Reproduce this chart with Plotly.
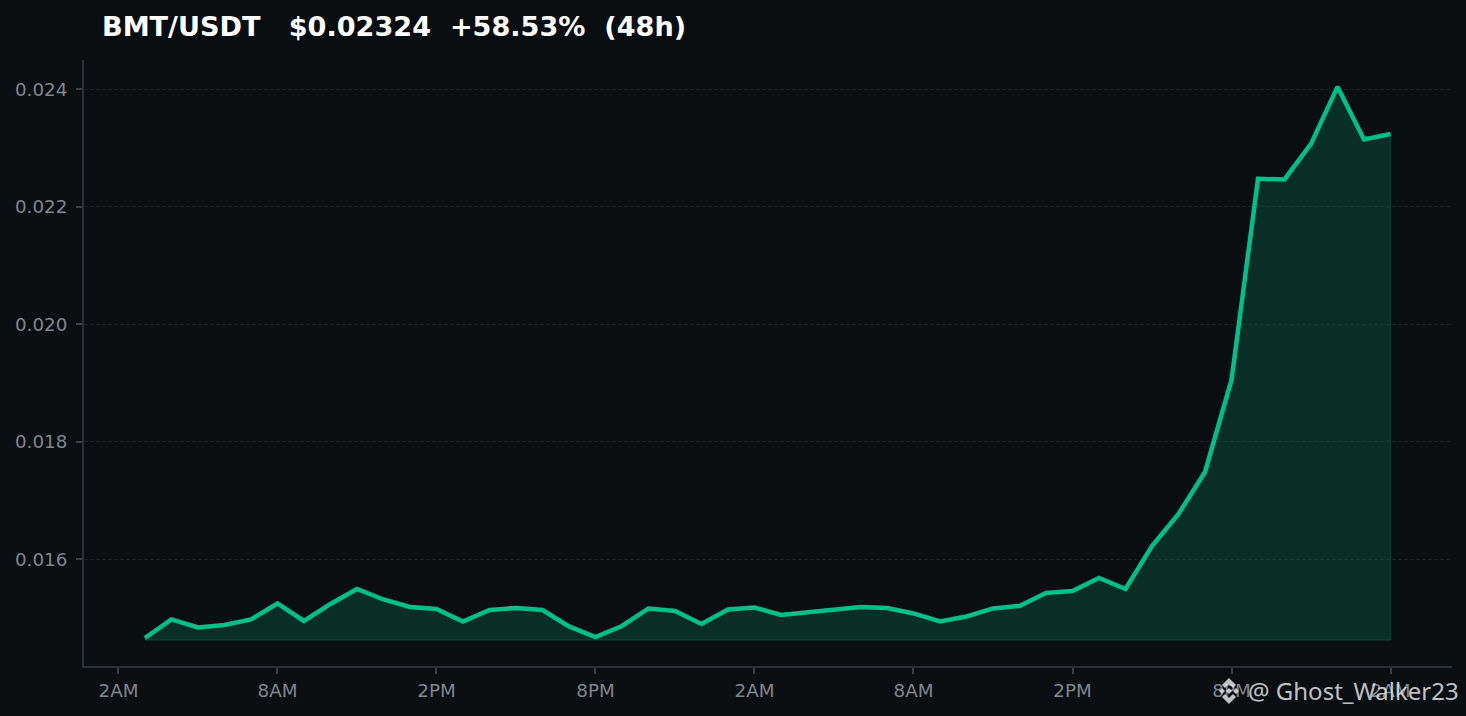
import plotly.graph_objects as go

hours = list(range(1, 49))
price = [0.014664, 0.014979, 0.014843, 0.014885, 0.014979, 0.015251, 0.014953, 0.015243,
         0.015498, 0.015319, 0.015191, 0.015157, 0.014945, 0.01514, 0.015174, 0.01514,
         0.01486, 0.014681, 0.014868, 0.015166, 0.015123, 0.014902, 0.015149, 0.015183,
         0.015055, 0.015098, 0.01514, 0.015191, 0.015174, 0.015081, 0.014945, 0.01503,
         0.015166, 0.015209, 0.01543, 0.015464, 0.015685, 0.015498, 0.01623, 0.016774,
         0.017489, 0.019055, 0.022477, 0.022468, 0.023072, 0.024043, 0.023149, 0.02324]
base_price = 0.01463
x_ticks = [0, 6, 12, 18, 24, 30, 36, 42, 48]
x_labels = ["2AM", "8AM", "2PM", "8PM", "2AM", "8AM", "2PM", "8PM", "2AM"]
y_ticks = [0.016, 0.018, 0.020, 0.022, 0.024]
y_labels = ["0.016", "0.018", "0.020", "0.022", "0.024"]
title_text = "BMT/USDT   $0.02324  +58.53%  (48h)"
watermark_text = "@ Ghost_Walker23"

W, H = 1466, 716
LEFT, RIGHT, TOP, BOTTOM = 84, 1452, 60, 666
BG = "#0b0e11"
GREEN = "#00c087"
GREY = "#80858e"


# paper coordinates in plotly are relative to the plot area
def px(x):
    return (x - LEFT) / (RIGHT - LEFT)


def py(y):
    return (BOTTOM - y) / (BOTTOM - TOP)


# turns picture pixels into a closed paper path, for the watermark logo
def logo_path(points):
    parts = []
    for i, (x, y) in enumerate(points):
        parts.append(("M" if i == 0 else "L") + " {:.5f} {:.5f}".format(px(1229 + x), py(691 + y)))
    return " ".join(parts) + " Z"


logo = [
    [(0, -13), (7, -6), (4, -3), (0, -7), (-4, -3), (-7, -6)],
    [(0, 13), (7, 6), (4, 3), (0, 7), (-4, 3), (-7, 6)],
    [(-3, 0), (0, -3), (3, 0), (0, 3)],
    [(-10, 0), (-7, -3), (-4, 0), (-7, 3)],
    [(10, 0), (7, -3), (4, 0), (7, 3)],
]

fig = go.Figure()
fig.add_trace(go.Scatter(x=hours + [hours[-1], hours[0]], y=price + [base_price, base_price],
                         mode="lines", fill="toself", fillcolor="rgba(0,192,135,0.18)",
                         line=dict(color="rgba(0,192,135,0.18)", width=1.5), hoverinfo="skip"))
fig.add_trace(go.Scatter(x=hours, y=price, mode="lines", line=dict(color=GREEN, width=4.5)))

fig.update_layout(
    width=W, height=H, autosize=False, showlegend=False,
    paper_bgcolor=BG, plot_bgcolor=BG,
    margin=dict(l=LEFT, r=W - RIGHT, t=TOP, b=H - BOTTOM),
    font=dict(family="DejaVu Sans", color=GREY, size=18.3),
    annotations=[
        dict(text="<b>" + title_text + "</b>", xref="paper", yref="paper", x=px(102), y=py(26),
             xanchor="left", yanchor="middle", showarrow=False, xshift=-2,
             font=dict(family="DejaVu Sans", size=27.1, color="white")),
        dict(text=watermark_text, xref="paper", yref="paper", x=px(1248), y=py(691),
             xanchor="left", yanchor="middle", showarrow=False, xshift=-2,
             font=dict(family="Noto Sans", size=24, color="rgba(225,225,225,0.85)")),
    ],
    shapes=[dict(type="path", xref="paper", yref="paper", path=logo_path(p),
                 fillcolor="rgba(225,225,225,0.85)", line=dict(width=0)) for p in logo],
)
fig.update_xaxes(range=[-1.30, 50.32], tickmode="array", tickvals=x_ticks, ticktext=x_labels,
                 showgrid=False, zeroline=False, showline=True, linecolor="#2b2f36", linewidth=2,
                 ticklabelstandoff=1,
                 ticks="outside", ticklen=6, tickwidth=2, tickcolor="#3a3f47")
fig.update_yaxes(range=[0.014187, 0.0245], tickmode="array", tickvals=y_ticks, ticktext=y_labels,
                 showgrid=True, gridcolor="#1a1f24", griddash="4px,2px", gridwidth=1, zeroline=False,
                 showline=True, linecolor="#2b2f36", linewidth=2, ticklabelstandoff=5,
                 ticks="outside", ticklen=6, tickwidth=2, tickcolor="#3a3f47")

fig.write_html("out.html", config=dict(displayModeBar=False),
               post_script="document.body.style.margin='0';document.body.style.background='" + BG + "';")
